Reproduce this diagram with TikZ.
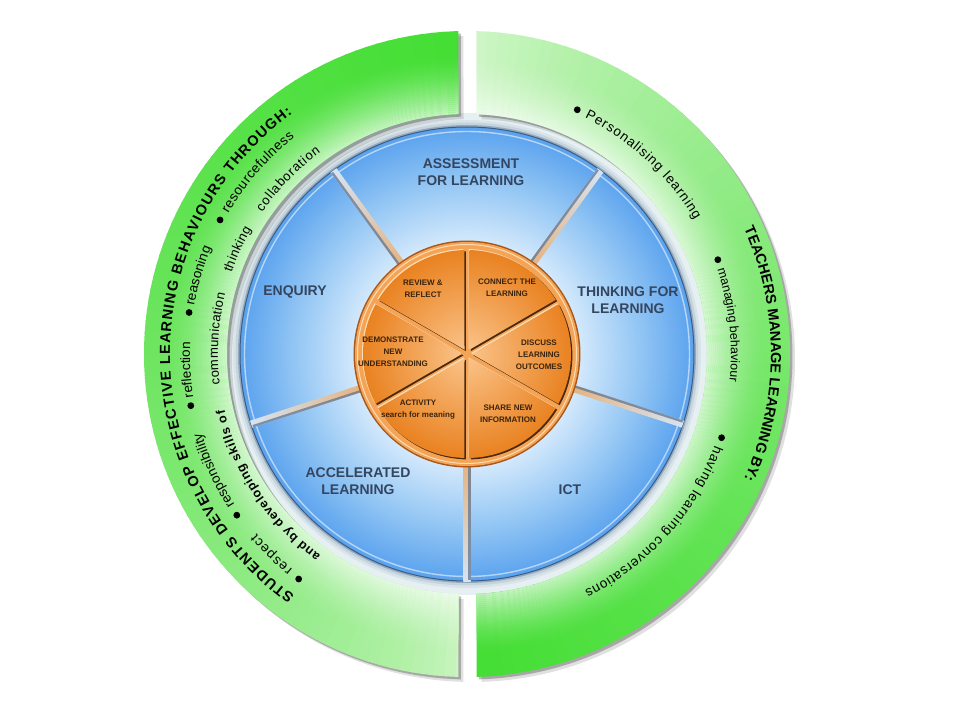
\documentclass[tikz,border=0pt]{standalone}
\usepackage{fontspec}
\setmainfont{Liberation Sans}
\usetikzlibrary{decorations.text}
\definecolor{gstrong}{HTML}{43DE33}
\definecolor{gpale}{HTML}{D8F7D0}
\definecolor{gapfill}{HTML}{E6F0F2}
\definecolor{bin}{HTML}{D2E8FC}
\definecolor{bmid}{HTML}{93C6F4}
\definecolor{bout}{HTML}{5AA2EE}
\definecolor{brim}{HTML}{3C5C86}
\definecolor{oin}{HTML}{FBC58C}
\definecolor{oout}{HTML}{E98221}
\definecolor{orim}{HTML}{F3A457}
\definecolor{obrd}{HTML}{A9581A}
\definecolor{odark}{HTML}{4A2A0E}
\definecolor{olight}{HTML}{FFDDB4}
\definecolor{bluetext}{HTML}{34455F}
\definecolor{otext}{HTML}{3B240E}
\definecolor{spkor}{HTML}{E6B27E}
\definecolor{spkbl}{HTML}{D6E4F2}
\definecolor{spkdk}{HTML}{5F7694}
\pgfdeclareradialshading{blueshade}{\pgfpoint{0bp}{0bp}}{color(0bp)=(bin); color(12.5bp)=(bin); color(19bp)=(bmid); color(25bp)=(bout); color(50bp)=(bout)}
\pgfdeclareradialshading{orangeshade}{\pgfpoint{0bp}{0bp}}{color(0bp)=(oin); color(25bp)=(oout); color(50bp)=(oout)}
\newcommand\mytitlefont{\bfseries\fontsize{14.5}{16}\selectfont}
\newcommand\mybulletfont{\fontsize{13.5}{15}\selectfont}
\newcommand\mysmallbullet{\fontsize{12.5}{14}\selectfont}
\newcommand\myinnerfont{\fontsize{13}{15}\selectfont}
\newcommand\myinnerbold{\bfseries\fontsize{12.5}{14}\selectfont}
\def\leftpiece{(91.51:323) arc[start angle=91.51,end angle=268.49,radius=323] -- (267.97:240) arc[start angle=267.97,end angle=92.03,radius=240] -- cycle}
\def\rightpiece{(88.31:323) arc[start angle=88.31,end angle=-88.31,radius=323] -- (-87.73:240) arc[start angle=-87.73,end angle=87.73,radius=240] -- cycle}
\tikzset{
  bluelbl/.style={font=\bfseries\fontsize{14}{17}\selectfont, text=bluetext, align=center},
  orglbl/.style={font=\bfseries\fontsize{8}{12}\selectfont, text=otext, align=center},
  gdot/.style={fill=black},
  arctext/.style={decorate, decoration={text along path, text={#1}, text align={fit to path}}}
}
\begin{document}
\begin{tikzpicture}[x=1pt,y=1pt]
\useasboundingbox (-467,-366) rectangle (493,354);
\fill[white] (-467,-366) rectangle (493,354);
% pale band behind
\fill[gapfill] (0,0) circle[radius=241];
% green pieces shadows
\fill[black, opacity=.12] [shift={(5,-5)}] \leftpiece;
\fill[black, opacity=.25] [shift={(2.5,-2.5)}] \leftpiece;
\fill[black, opacity=.12] [shift={(5,-5)}] \rightpiece;
\fill[black, opacity=.25] [shift={(2.5,-2.5)}] \rightpiece;
% left green piece
\begin{scope}
  \clip \leftpiece;
  \foreach \i in {0,...,89}{
    \pgfmathsetmacro{\a}{90+2*\i}
    \pgfmathsetmacro{\p}{100*pow(1-(\i+0.5)/90,0.5)}
    \colorlet{slc}{gstrong!\p!gpale}
    \fill[slc] (\a:230) arc[start angle=\a, end angle=\a+2.4, radius=230] -- ({\a+2.4}:330) arc[start angle=\a+2.4, end angle=\a, radius=330] -- cycle;
  }
  \foreach \r in {240,242,...,298}{
    \pgfmathsetmacro{\o}{0.65*pow((300-\r)/60,1.6)}
    \draw[white, opacity=\o, line width=2pt] (0,0) circle[radius=\r+1];
  }
\end{scope}
% right green piece
\begin{scope}
  \clip \rightpiece;
  \foreach \i in {0,...,89}{
    \pgfmathsetmacro{\a}{90-2*(\i+1)}
    \pgfmathsetmacro{\p}{100*pow((\i+0.5)/90,0.65)}
    \colorlet{slc}{gstrong!\p!gpale}
    \fill[slc] (\a:230) arc[start angle=\a, end angle=\a+2.4, radius=230] -- ({\a+2.4}:330) arc[start angle=\a+2.4, end angle=\a, radius=330] -- cycle;
  }
  \foreach \r in {240,242,...,298}{
    \pgfmathsetmacro{\o}{0.65*pow((300-\r)/60,1.6)}
    \draw[white, opacity=\o, line width=2pt] (0,0) circle[radius=\r+1];
  }
\end{scope}
% blue disk
\fill[brim, opacity=.08] (0,0) circle[radius=234];
\fill[brim, opacity=.12] (0,0) circle[radius=231.5];
\fill[brim, opacity=.35] (0,0) circle[radius=229];
\shade[shading=blueshade] (0,0) circle[radius=227];
\draw[brim, line width=1] (0,0) circle[radius=227];
\draw[white, opacity=.55, line width=1.4] (0,0) circle[radius=222.5];
% blue spokes
\foreach \a in {126,54,-18,-90,198}{
  \begin{scope}[transform canvas={rotate=\a}]
    \shade[left color=spkor, middle color=spkbl, right color=spkbl] (108,-3.6) rectangle (227,3.6);
    \fill[spkdk, opacity=.75] (108,1.3) rectangle (226,3.6);
  \end{scope}
}
% orange disk
\fill[obrd] (0,0) circle[radius=113.5];
\fill[orim] (0,0) circle[radius=112];
\draw[olight, line width=1] (0,0) circle[radius=109.5];
\foreach \m in {120,60,0,-60,-120,180}{
  \fill[olight] [shift={(-1,1)}] (\m:5) -- ({\m-28.6}:104) arc[start angle=\m-28.6, end angle=\m+28.6, radius=104] -- cycle;
  \fill[odark] [shift={(1.4,-1.4)}] (\m:5) -- ({\m-28.6}:104) arc[start angle=\m-28.6, end angle=\m+28.6, radius=104] -- cycle;
  \begin{scope}
    \clip (\m:5) -- ({\m-28.6}:104) arc[start angle=\m-28.6, end angle=\m+28.6, radius=104] -- cycle;
    \shade[shading=orangeshade] (0,0) circle[radius=104];
  \end{scope}
}
% blue labels
\node[bluelbl] (assess) at (4,182) {ASSESSMENT\\FOR LEARNING};
\node[bluelbl] (think) at (161,54) {THINKING FOR\\LEARNING};
\node[bluelbl] (ict) at (103,-136) {ICT};
\node[bluelbl] (accel) at (-109,-127.5) {ACCELERATED\\LEARNING};
\node[bluelbl] (enq) at (-172,62) {ENQUIRY};
% orange labels
\node[orglbl] (review) at (-44,65) {REVIEW \&\\REFLECT};
\node[orglbl] (connect) at (40,66) {CONNECT THE\\LEARNING};
\node[orglbl] (discuss) at (72,-1) {DISCUSS\\LEARNING\\OUTCOMES};
\node[orglbl] (share) at (41,-60) {SHARE NEW\\INFORMATION};
\node[orglbl] (activity) at (-49,-56) {ACTIVITY\\search for meaning};
\node[orglbl] (demo) at (-74,2) {DEMONSTRATE\\NEW\\UNDERSTANDING};
% left green texts
\path[arctext={|\mytitlefont|STUDENTS DEVELOP EFFECTIVE LEARNING BEHAVIOURS THROUGH:}] (234.5:297) arc[start angle=234.5, end angle=126, radius=297];
\foreach \ang in {233.2,215,190.6,171.5,151.5}{\fill[gdot] (\ang:281) circle[radius=3.4];}
\path[arctext={|\mybulletfont|respect}] (231:277) arc[start angle=231, end angle=220.5, radius=277];
\path[arctext={|\mybulletfont|responsibility}] (213:277) arc[start angle=213, end angle=196.5, radius=277];
\path[arctext={|\mybulletfont|reflection}] (189:277) arc[start angle=189, end angle=177.5, radius=277];
\path[arctext={|\mybulletfont|reasoning}] (170:277) arc[start angle=170, end angle=157.5, radius=277];
\path[arctext={|\mybulletfont|resourcefulness}] (149.5:277) arc[start angle=149.5, end angle=128.5, radius=277];
\path[arctext={|\myinnerbold|and by developing skills of}] (234:249) arc[start angle=234, end angle=193, radius=249];
\path[arctext={|\myinnerfont|communication}] (187:249) arc[start angle=187, end angle=166, radius=249];
\path[arctext={|\myinnerfont|thinking}] (161:249) arc[start angle=161, end angle=150, radius=249];
\path[arctext={|\myinnerfont|collaboration}] (145.3:249) arc[start angle=145.3, end angle=126, radius=249];
% right green texts
\path[arctext={|\mytitlefont|TEACHERS MANAGE LEARNING BY:}] (24.3:304) arc[start angle=24.3, end angle=-24.2, radius=304];
\foreach \ang in {65.7,20.6,-18.2}{\fill[gdot] (\ang:268) circle[radius=3.4];}
\path[arctext={|\mybulletfont|Personalising learning}] (63.5:264) arc[start angle=63.5, end angle=30.5, radius=264];
\path[arctext={|\mysmallbullet|managing behaviour}] (18.6:264) arc[start angle=18.6, end angle=-5.6, radius=264];
\path[arctext={|\mybulletfont|having learning conversations}] (-20.3:264) arc[start angle=-20.3, end angle=-63.5, radius=264];
\end{tikzpicture}
\end{document}
